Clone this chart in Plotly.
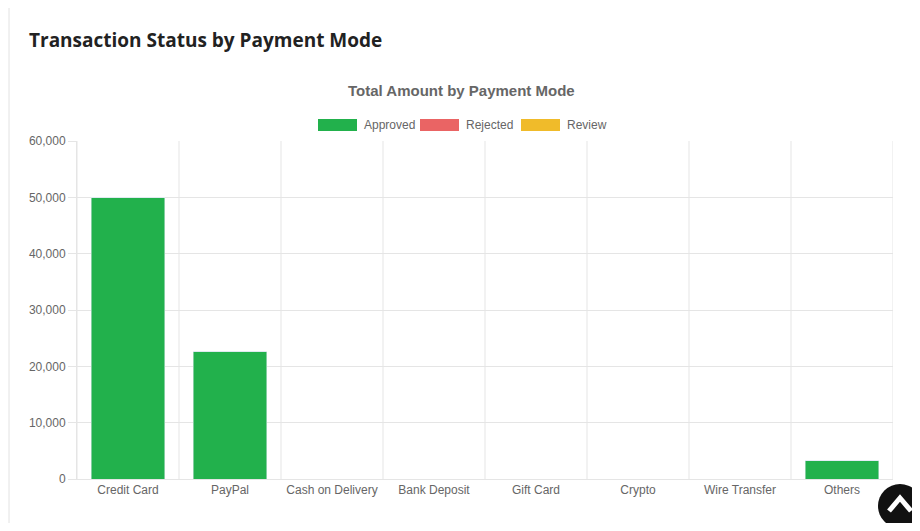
import plotly.graph_objects as go

categories = ["Credit Card", "PayPal", "Cash on Delivery", "Bank Deposit", "Gift Card", "Crypto", "Wire Transfer", "Others"]
approved = [50000, 22700, 0, 0, 0, 0, 0, 3200]
rejected = [0, 0, 0, 0, 0, 0, 0, 0]
review = [0, 0, 0, 0, 0, 0, 0, 0]
series_names = ["Approved", "Rejected", "Review"]
series_colors = ["#22b14c", "#ea6464", "#f0bb2a"]

OFF = 8  # page body margin
W, H = 904, 515
L, R, T, B = 69, 19, 133, 44
pw, ph = W - L - R, H - T - B
def px(x): return (x - OFF - L) / pw
def py(y): return (H - B - (y - OFF)) / ph

fig = go.Figure()
for name, vals, col in zip(series_names, [approved, rejected, review], series_colors):
    fig.add_bar(x=categories, y=vals, name=name, marker_color=col, showlegend=False)

shapes = [
    dict(type="rect", xref="paper", yref="paper", x0=px(9), x1=px(913), y0=py(527), y1=py(7),
         line=dict(color="#e2e2e2", width=1), fillcolor="rgba(0,0,0,0)", layer="below"),
]
for i in range(len(categories) + 1):
    shapes.append(dict(type="line", xref="x", yref="paper", x0=i - 0.5, x1=i - 0.5, y0=0, y1=1,
                       line=dict(color="#e5e5e5", width=1), layer="below"))
annotations = []
leg_x = [318, 420, 521]
for lx, name, col in zip(leg_x, series_names, series_colors):
    shapes.append(dict(type="rect", xref="paper", yref="paper", x0=px(lx), x1=px(lx + 39),
                       y0=py(131), y1=py(119), fillcolor=col, line=dict(width=0)))
    annotations.append(dict(text=name, xref="paper", yref="paper", x=px(lx + 44), y=py(125),
                            xanchor="left", yanchor="middle", showarrow=False,
                            font=dict(size=12, color="#666")))
shapes.append(dict(type="circle", xref="paper", yref="paper", x0=px(878), x1=px(922), y0=py(528), y1=py(484),
                   fillcolor="#111111", line=dict(width=0)))
shapes.append(dict(type="path", xref="paper", yref="paper",
                   path=f"M {px(889)} {py(511)} L {px(900)} {py(498)} L {px(911)} {py(511)}",
                   line=dict(color="white", width=5)))

annotations += [
    dict(text="<b>Transaction Status by Payment Mode</b>", xref="paper", yref="paper", x=px(27), y=py(40),
         xanchor="left", yanchor="middle", showarrow=False,
         font=dict(family="Open Sans", size=19, color="#222")),
    dict(text="<b>Total Amount by Payment Mode</b>", xref="paper", yref="paper", x=px(461), y=py(91),
         xanchor="center", yanchor="middle", showarrow=False,
         font=dict(family="Liberation Sans, Arial", size=15, color="#666")),
]

fig.update_layout(
    width=W, height=H, barmode="stack", bargap=0.28,
    margin=dict(l=L, r=R, t=T, b=B),
    paper_bgcolor="white", plot_bgcolor="white",
    font=dict(family="Liberation Sans, Arial", size=12, color="#666"),
    showlegend=False,
    xaxis=dict(showgrid=False, showline=True, linecolor="#e5e5e5", ticks="", range=[-0.5, 7.5],
               tickfont=dict(size=12, color="#666")),
    yaxis=dict(range=[0, 60000], dtick=10000, tickformat=",", gridcolor="#e5e5e5", zeroline=False,
               showline=True, linecolor="#e5e5e5", ticks="outside", ticklen=8, tickcolor="#e5e5e5",
               tickfont=dict(size=12, color="#666")),
    shapes=shapes,
    annotations=annotations,
)
fig.write_html("out.html")
